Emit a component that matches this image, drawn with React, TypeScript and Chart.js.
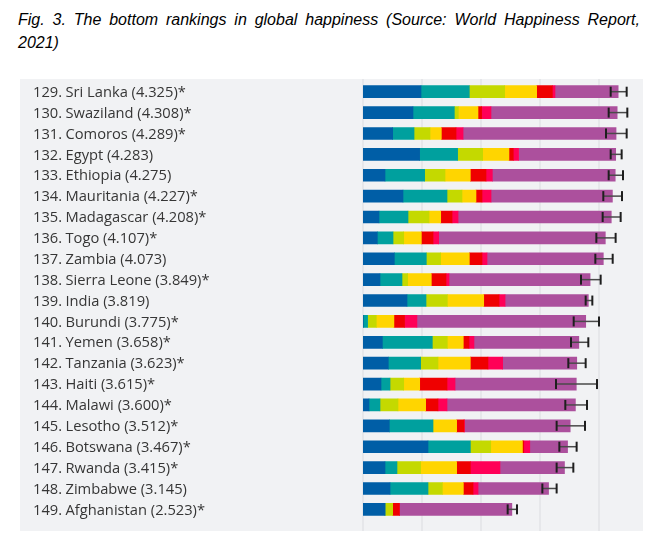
import React, { useEffect, useRef } from "react";
import { Chart, registerables } from "chart.js";

Chart.register(...registerables);

const ranks = [129, 130, 131, 132, 133, 134, 135, 136, 137, 138, 139, 140, 141, 142, 143, 144, 145, 146, 147, 148, 149];
const countryLabels = [
  "Sri Lanka (4.325)*", "Swaziland (4.308)*", "Comoros (4.289)*", "Egypt (4.283)", "Ethiopia (4.275)",
  "Mauritania (4.227)*", "Madagascar (4.208)*", "Togo (4.107)*", "Zambia (4.073)", "Sierra Leone (3.849)*",
  "India (3.819)", "Burundi (3.775)*", "Yemen (3.658)*", "Tanzania (3.623)*", "Haiti (3.615)*",
  "Malawi (3.600)*", "Lesotho (3.512)*", "Botswana (3.467)*", "Rwanda (3.415)*", "Zimbabwe (3.145)",
  "Afghanistan (2.523)*",
];

const gdp = [0.983, 0.847, 0.503, 0.960, 0.373, 0.678, 0.271, 0.243, 0.531, 0.288, 0.746, 0.005, 0.328, 0.429, 0.305, 0.102, 0.446, 1.102, 0.373, 0.458, 0.373];
const social = [0.819, 0.701, 0.362, 0.644, 0.672, 0.746, 0.492, 0.266, 0.542, 0.373, 0.322, 0.073, 0.847, 0.548, 0.153, 0.186, 0.740, 0.718, 0.203, 0.644, 0.0];
const health = [0.599, 0.068, 0.271, 0.424, 0.345, 0.254, 0.356, 0.181, 0.243, 0.096, 0.362, 0.147, 0.254, 0.294, 0.232, 0.305, 0.0, 0.345, 0.401, 0.243, 0.130];
const freedom = [0.542, 0.333, 0.192, 0.446, 0.429, 0.237, 0.198, 0.299, 0.486, 0.401, 0.616, 0.299, 0.271, 0.548, 0.271, 0.469, 0.401, 0.537, 0.610, 0.356, 0.0];
const generosity = [0.266, 0.062, 0.249, 0.073, 0.266, 0.102, 0.192, 0.198, 0.215, 0.249, 0.260, 0.181, 0.096, 0.299, 0.463, 0.209, 0.124, 0.023, 0.232, 0.164, 0.113];
const corruption = [0.045, 0.158, 0.119, 0.090, 0.107, 0.153, 0.102, 0.096, 0.085, 0.051, 0.102, 0.209, 0.085, 0.249, 0.136, 0.153, 0.011, 0.102, 0.503, 0.085, 0.0];
const dystopia = [1.071, 2.139, 2.593, 1.646, 2.083, 2.057, 2.597, 2.824, 1.971, 2.391, 1.411, 2.861, 1.777, 1.256, 2.055, 2.176, 1.790, 0.640, 1.093, 1.195, 1.907];

const ciLow = [4.198, 4.164, 4.119, 4.198, 4.164, 4.073, 4.062, 3.955, 3.938, 3.695, 3.774, 3.571, 3.525, 3.480, 3.271, 3.429, 3.282, 3.328, 3.282, 3.040, 2.452];
const ciHigh = [4.469, 4.480, 4.469, 4.384, 4.407, 4.390, 4.367, 4.282, 4.232, 4.028, 3.887, 4.000, 3.819, 3.774, 3.966, 3.797, 3.763, 3.621, 3.565, 3.282, 2.610];

const gridValues = [0, 1, 2, 3, 4];

const seriesNames = [
  "GDP per capita", "Social support", "Healthy life expectancy", "Freedom",
  "Generosity", "Perceptions of corruption", "Dystopia + residual",
];
const seriesColors = ["#005ea6", "#00a09e", "#c4d900", "#ffd500", "#ef0000", "#ff0057", "#ac509d"];

export default function App() {
  const canvasRef = useRef<HTMLCanvasElement | null>(null);

  useEffect(() => {
    const canvas = canvasRef.current;
    if (!canvas) return;
    const seriesData = [gdp, social, health, freedom, generosity, corruption, dystopia];

    const gridPlugin = {
      id: "fullGrid",
      beforeDatasetsDraw(chart: any) {
        const ctx = chart.ctx;
        const xs = chart.scales.x;
        ctx.save();
        ctx.strokeStyle = "#e6e7ea";
        ctx.lineWidth = 2;
        gridValues.forEach((v) => {
          const px = Math.round(xs.getPixelForValue(v));
          ctx.beginPath();
          ctx.moveTo(px, 0);
          ctx.lineTo(px, chart.height);
          ctx.stroke();
        });
        ctx.restore();
      },
    };

    const overlayPlugin = {
      id: "overlay",
      afterDatasetsDraw(chart: any) {
        const ctx = chart.ctx;
        const xs = chart.scales.x;
        const ys = chart.scales.y;
        ctx.save();
        ranks.forEach((_, i) => {
          const y = ys.getPixelForValue(i);
          const x1 = xs.getPixelForValue(ciLow[i]);
          const x2 = xs.getPixelForValue(ciHigh[i]);
          ctx.strokeStyle = "#4a4a4a";
          ctx.lineWidth = 1.5;
          ctx.beginPath();
          ctx.moveTo(x1, y);
          ctx.lineTo(x2, y);
          ctx.stroke();
          ctx.strokeStyle = "#1e1e1e";
          ctx.lineWidth = 2;
          [x1, x2].forEach((x) => {
            ctx.beginPath();
            ctx.moveTo(x, y - 5);
            ctx.lineTo(x, y + 5);
            ctx.stroke();
          });
        });
        ctx.fillStyle = "#363636";
        ctx.font = "14.7px 'Open Sans'";
        ctx.textBaseline = "middle";
        ctx.textAlign = "left";
        ranks.forEach((r, i) => {
          const y = ys.getPixelForValue(i) + 1;
          ctx.fillText(r + ".", 13, y);
          ctx.fillText(countryLabels[i], 45.5, y);
        });
        ctx.restore();
      },
    };

    const chart = new Chart(canvas, {
      type: "bar",
      data: {
        labels: countryLabels,
        datasets: seriesData.map((d, k) => ({
          label: seriesNames[k],
          data: d,
          backgroundColor: seriesColors[k],
          borderWidth: 0,
          barThickness: 12,
        })),
      },
      options: {
        indexAxis: "y",
        responsive: false,
        animation: false,
        layout: { padding: { left: 343, right: 14.5, top: 2.26, bottom: 11.2 } },
        plugins: { legend: { display: false }, tooltip: { enabled: false } },
        scales: {
          x: { stacked: true, display: false, min: 0, max: 4.5, grid: { display: false } },
          y: { stacked: true, display: false, grid: { display: false } },
        },
      },
      plugins: [gridPlugin, overlayPlugin],
    });
    return () => chart.destroy();
  }, []);

  const captionStyle: React.CSSProperties = {
    fontFamily: "'Liberation Sans', Arial, sans-serif",
    fontStyle: "italic",
    fontSize: "16px",
    lineHeight: "23.3px",
    color: "#000",
    position: "absolute",
    left: 10,
    width: 622,
  };

  return (
    <div style={{ position: "relative", width: 654, height: 529 }}>
      <div style={{ ...captionStyle, top: 0, textAlign: "justify", textAlignLast: "justify" }}>
        Fig. 3. The bottom rankings in global happiness (Source: World Happiness Report,
      </div>
      <div style={{ ...captionStyle, top: 23.3 }}>2021)</div>
      <canvas
        ref={canvasRef}
        width={623}
        height={452}
        style={{ position: "absolute", left: 12, top: 71, background: "#f1f2f4", display: "block" }}
      />
    </div>
  );
}
